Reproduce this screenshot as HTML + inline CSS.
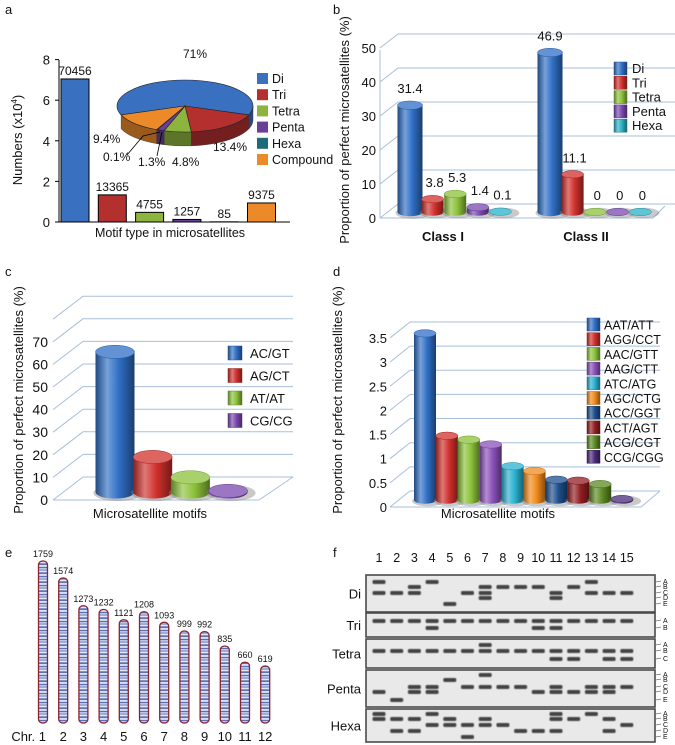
<!DOCTYPE html>
<html><head><meta charset="utf-8"><style>
html,body{margin:0;padding:0;background:#fff}
svg{display:block;font-family:"Liberation Sans",Arial,sans-serif}
</style></head><body>
<svg id="fig" width="675" height="745" viewBox="0 0 675 745" xmlns="http://www.w3.org/2000/svg">
<defs id="defs">
<pattern id="chrPat" width="10" height="9" patternUnits="userSpaceOnUse">
<rect width="10" height="9" fill="#bcc7e8"/>
<rect y="0" width="10" height="1" fill="#5a6fb5"/>
<rect y="2.5" width="10" height="1" fill="#8090c8"/>
<rect y="4" width="10" height="0.8" fill="#eef1fa"/>
<rect y="5.5" width="10" height="1.3" fill="#4a5fa8"/>
<rect y="7.5" width="10" height="0.8" fill="#f4f6fc"/>
</pattern>
<filter id="blur" x="-20%" y="-50%" width="140%" height="200%"><feGaussianBlur stdDeviation="0.6"/></filter>
</defs>
<g id="root"></g>
</svg>
<script>
// ---------- Data ----------
const aCats=["Di","Tri","Tetra","Penta","Hexa","Compound"];
const aCounts=[70456,13365,4755,1257,85,9375];
const aPiePct=[71,13.4,4.8,1.3,0.1,9.4];
const aTicks=[0,2,4,6,8];
const bClasses=["Class I","Class II"];
const bSeries=["Di","Tri","Tetra","Penta","Hexa"];
const bClassI=[31.4,3.8,5.3,1.4,0.1];
const bClassII=[46.9,11.1,0,0,0];
const bTicks=[0,10,20,30,40,50];
const cCats=["AC/GT","AG/CT","AT/AT","CG/CG"];
const cVals=[62,15.5,6.5,0.5];
const cTicks=[0,10,20,30,40,50,60,70];
const dCats=["AAT/ATT","AGG/CCT","AAC/GTT","AAG/CTT","ATC/ATG","AGC/CTG","ACC/GGT","ACT/AGT","ACG/CGT","CCG/CGG"];
const dVals=[3.45,1.33,1.25,1.15,0.7,0.6,0.42,0.4,0.33,0.02];
const dTicks=[0,0.5,1,1.5,2,2.5,3,3.5];
const dTickLabels=["0","0.5","1","1.5","2","2.5","3","3.5"];
const eChr=["Chr. 1","2","3","4","5","6","7","8","9","10","11","12"];
const eCounts=[1759,1574,1273,1232,1121,1208,1093,999,992,835,660,619];
const fRows=["Di","Tri","Tetra","Penta","Hexa"];
const fBands={
Di:[["A","C"],["C"],["B","C"],["A"],["E"],["C"],["B","C","D"],["B"],["B"],["B"],["C","D"],["B"],["A","C"],["C"],["C"]],
Tri:[["A"],["A"],["A"],["A","B"],["A"],["A"],["A"],["A"],["A"],["A","B"],["A","B"],["A"],["A"],["A"],["A"]],
Tetra:[["B"],["B"],["B"],["B"],["B"],["B"],["A","B"],["B"],["B"],["B"],["B","C"],["B","C"],["B"],["B","C"],["B","C"]],
Penta:[["D"],["E"],["C","D"],["C","D"],["B"],["C"],["A","C"],["C"],["C"],["D"],["C","D"],["D"],["C","D"],["C","D"],["C"]],
Hexa:[["A","B"],["B","D"],["B","D"],["A","C"],["B","C"],["C","E"],["B","C"],["C"],["D"],["D"],["A","B","D"],["B"],["A"],["B","D"],["C"]]
};
const fLetters={Di:["A","B","C","D","E"],Tri:["A","B"],Tetra:["A","B","C"],Penta:["A","B","C","D","E"],Hexa:["A","B","C","D","E"]};

// ---------- helpers ----------
const NS="http://www.w3.org/2000/svg";
const root=document.getElementById('root');
const defs=document.getElementById('defs');
function mk(tag,attrs,parent){const e=document.createElementNS(NS,tag);for(const k in attrs)e.setAttribute(k,attrs[k]);(parent||root).appendChild(e);return e;}
function txt(x,y,s,size,anchor,parent,extra){const t=mk('text',Object.assign({x:x,y:y,'font-size':size,'text-anchor':anchor||'start',fill:'#111'},extra||{}),parent);t.textContent=s;return t;}
function shade(hex,f){let n=parseInt(hex.slice(1),16);let r=n>>16,g=(n>>8)&255,b=n&255;
 const m=c=>Math.max(0,Math.min(255,Math.round(f>0?c+(255-c)*f:c*(1+f))));return 'rgb('+m(r)+','+m(g)+','+m(b)+')';}
let gid=0;
function cylGrad(color){const id='cg'+(gid++);const g=mk('linearGradient',{id:id,x1:0,y1:0,x2:1,y2:0},defs);
 [[0,shade(color,-0.35)],[0.3,shade(color,0.35)],[0.6,color],[1,shade(color,-0.45)]].forEach(s=>mk('stop',{offset:s[0],'stop-color':s[1]},g));return 'url(#'+id+')';}
function cylinder(g,cx,w,baseY,topY,color){
 const rx=w/2, ry=w*0.17;
 mk('ellipse',{cx:cx+3,cy:baseY+1,rx:rx+5,ry:ry+1.5,fill:'#888','opacity':0.45},g);
 if(baseY-topY>0.5){
  mk('path',{d:`M${cx-rx},${topY} L${cx-rx},${baseY} A${rx},${ry} 0 0 0 ${cx+rx},${baseY} L${cx+rx},${topY} Z`,fill:cylGrad(color)},g);
 }
 mk('ellipse',{cx:cx,cy:topY,rx:rx,ry:ry,fill:shade(color,0.25),stroke:shade(color,-0.2),'stroke-width':0.5},g);
}
function legendSq(g,x,y,s,color){mk('rect',{x:x,y:y,width:s,height:s,fill:cylGrad(color),stroke:shade(color,-0.3),'stroke-width':0.5},g);}

// ---------- Panel a ----------
(function(){
 const g=mk('g',{});
 const L=txt(5,14,'a',13,'start',g);
 const colors=["#3a70c0","#b3302f","#8db43f","#6a3f98","#1f6a78","#ec8a2a"];
 const y0=222,px=20.3/10000; const ys=v=>y0-v*px;
 mk('line',{x1:59,y1:60,x2:59,y2:222,stroke:'#000','stroke-width':1},g);
 mk('line',{x1:59,y1:222,x2:290,y2:222,stroke:'#000','stroke-width':1},g);
 aTicks.forEach(t=>{const y=y0-t*20.3;mk('line',{x1:55,y1:y,x2:59,y2:y,stroke:'#000'},g);
  const tl=txt(50,y+5,String(t),13,'end',g);});
 const yt=txt(0,0,'Numbers (x10',13,'middle',g,{transform:'translate(22,140) rotate(-90)'});
 const sup=mk('tspan',{'font-size':8,dy:-5},yt);sup.textContent='4';const tc=mk('tspan',{dy:5},yt);tc.textContent=')';
 
 const xt=txt(170,237,'Motif type in microsatellites',12.5,'middle',g);
 aCounts.forEach((v,i)=>{const x=61+i*37.3;const y=ys(v);
  const r=mk('rect',{x:x,y:y,width:28,height:y0-y,fill:colors[i],stroke:'#000','stroke-width':1},g);
  
  const l=txt(x+14,y-4,String(v),12,'middle',g);});
 // pie
 const pg=mk('g',{},g);
 const cx=185,cy=106,rx=68,ry=26,dep=14;
 const rest=aPiePct.slice(1).reduce((a,b)=>a+b,0);
 const sl=[];let a0=200;sl.push([a0,-20,0]);
 let cur=-20;const order=[1,2,3,4,5];
 order.forEach(k=>{const span=aPiePct[k]/rest*140;sl.push([cur,cur-span,k]);cur-=span;});
 const P=(a,dy)=>[cx+rx*Math.cos(a*Math.PI/180),cy-ry*Math.sin(a*Math.PI/180)+(dy||0)];
 sl.forEach(s=>{let a1=Math.max(s[1],-180),a2=Math.min(s[0],0);if(s[2]===0){a1=-20;a2=0;}
  if(a2<=a1)return;const p1=P(a2),p2=P(a1);
  mk('path',{d:`M${p1[0]},${p1[1]} A${rx},${ry} 0 0 1 ${p2[0]},${p2[1]} L${p2[0]},${p2[1]+dep} A${rx},${ry} 0 0 0 ${p1[0]},${p1[1]+dep} Z`,fill:shade(colors[s[2]],-0.35),stroke:'#333','stroke-width':0.4},pg);});
 sl.forEach(s=>{const p1=P(s[0]),p2=P(s[1]);const large=Math.abs(s[0]-s[1])>180?1:0;
  const pp=mk('path',{d:`M${cx},${cy} L${p1[0]},${p1[1]} A${rx},${ry} 0 ${large} 1 ${p2[0]},${p2[1]} Z`,fill:colors[s[2]],stroke:'#222','stroke-width':0.6},pg);
  });
 const pl=[['71%',183,58],['9.4%',93,143],['13.4%',213,151],['0.1%',103,161],['1.3%',138,166],['4.8%',172,166]];
 pl.forEach(p=>{const t=txt(p[1],p[2],p[0],12,'start',g);});
 mk('polyline',{points:'127,155 143,136 160,132',fill:'none',stroke:'#000','stroke-width':0.8},g);
 mk('polyline',{points:'157,156 162,132',fill:'none',stroke:'#000','stroke-width':0.8},g);
 aCats.forEach((c,i)=>{const y=73+i*16.2;const r=mk('rect',{x:257,y:y,width:11,height:11,fill:colors[i]},g);
  
  const t=txt(272,y+10,c,12.5,'start',g);});
})();

// ---------- Panel b ----------
(function(){
 const g=mk('g',{});
 const L=txt(333,14,'b',13,'start',g);
 const colors=["#2f6fc6","#d0302c","#8cc23a","#7a48b0","#2ab0c8"];
 const fy=v=>218-v*3.4, base=212;
 bTicks.forEach(t=>{const y=fy(t);
  mk('polyline',{points:`380,${y} 398,${y-14} 675,${y-14}`,fill:'none',stroke:'#a8bfdc','stroke-width':1},g);
  const tl=txt(376,y+5,String(t),13,'end',g);});
 mk('polyline',{points:'380,218 653,218 665,206',fill:'none',stroke:'#a8bfdc','stroke-width':1},g);
 mk('line',{x1:380,y1:218,x2:380,y2:50,stroke:'#a8bfdc'},g);
 const yt=txt(0,0,'Proportion of perfect microsatellites (%)',13,'middle',g,{transform:'translate(349,130) rotate(-90)'});
 
 const groups=[bClassI,bClassII];const gx=[410,550];
 groups.forEach((vals,gi)=>{vals.forEach((v,i)=>{const cx=gx[gi]+i*22.6;const bg=mk('g',{},g);
   
   const top=base-v*3.4;cylinder(bg,cx,i==0?25:22,base,top,colors[i]);
   const l=txt(cx+(i==0?0:2),top-12,String(v),13,'middle',g);});
  const ct=txt(gi==0?443:586,241,bClasses[gi],13,'middle',g,{'font-weight':'bold'});});
 bSeries.forEach((s,i)=>{const y=62+i*14.3;legendSq(g,614,y,13,colors[i]);
  const t=txt(632,y+11,s,13,'start',g);});
})();

// ---------- Panel c ----------
(function(){
 const g=mk('g',{});
 const L=txt(5,276,'c',13,'start',g);
 const colors=["#2f6fc6","#d0302c","#8cc23a","#7a48b0"];
 const fy=v=>500-v*2.26, base=492;
 cTicks.concat([80]).forEach(t=>{const y=fy(t);
  mk('polyline',{points:`53,${y} 83,${y-23} 293,${y-23}`,fill:'none',stroke:'#a8bfdc','stroke-width':1},g);});
 cTicks.forEach(t=>{const tl=txt(48,fy(t)+5,String(t),14,'end',g);});
 mk('polyline',{points:'53,500 259,500 293,477',fill:'none',stroke:'#a8bfdc','stroke-width':1},g);
 const yt=txt(0,0,'Proportion of perfect microsatellites (%)',13,'middle',g,{transform:'translate(23,400) rotate(-90)'});
 
 const xt=txt(150,518,'Microsatellite motifs',13,'middle',g);
 cVals.forEach((v,i)=>{const cx=115+i*37.7;const bg=mk('g',{},g);
  
  cylinder(bg,cx,39,base,base-v*2.26,colors[i]);});
 cCats.forEach((c,i)=>{const y=346+i*22.5;legendSq(g,228,y,14,colors[i]);
  const t=txt(250,y+12,c,13,'start',g);});
})();

// ---------- Panel d ----------
(function(){
 const g=mk('g',{});
 const L=txt(333,276,'d',13,'start',g);
 const colors=["#2f6fc6","#d0302c","#8cc23a","#8a50b8","#2ab0d0","#f08a1c","#1d4f8c","#921e22","#5c8a22","#4a2a78"];
 const fy=v=>507-v*48.3, base=500;
 dTicks.forEach((t,i)=>{const y=fy(t);
  mk('polyline',{points:`390,${y} 410,${y-16} 660,${y-16}`,fill:'none',stroke:'#a8bfdc','stroke-width':1},g);
  const tl=txt(387,y+5,dTickLabels[i],13,'end',g);});
 mk('polyline',{points:'390,507 641,507 660,491',fill:'none',stroke:'#a8bfdc','stroke-width':1},g);
 const yt=txt(0,0,'Proportion of perfect  microsatellites (%)',13,'middle',g,{transform:'translate(342,400) rotate(-90)'});
 
 const xt=txt(498,518,'Microsatellite motifs',13,'middle',g);
 dVals.forEach((v,i)=>{const cx=425+i*21.9;const bg=mk('g',{},g);
  
  cylinder(bg,cx,22,base,base-v*48.3,colors[i]);});
 dCats.forEach((c,i)=>{const y=318+i*14.7;legendSq(g,587,y,13,colors[i]);
  const t=txt(604,y+11.5,c,12.5,'start',g);});
})();

// ---------- Panel e ----------
(function(){
 const g=mk('g',{});
 const L=txt(5,557,'e',13,'start',g);
 const bottom=723,k=162/1759;
 eCounts.forEach((c,i)=>{const cx=43+i*20.2;const h=c*k;const top=bottom-h;
  const r=mk('rect',{x:cx-4.5,y:top,width:9,height:h,rx:4,ry:4,fill:'url(#chrPat)',stroke:'#8a2430','stroke-width':1.3},g);
  
  const l=txt(cx,top-4,String(c),9,'middle',g);
  const cl=txt(i==0?cx+3:cx,741,eChr[i],13,i==0?'end':'middle',g);});
})();

// ---------- Panel f ----------
(function(){
 const g=mk('g',{});
 const L=txt(333,557,'f',13,'start',g);
 const rows={Di:[575,612,[582,587,593,598,604]],Tri:[613,637,[621,628]],Tetra:[639,668,[645,651,659]],Penta:[670,707,[675,680,687,692,700]],Hexa:[709,742,[714,719,725,731,737]]};
 for(let i=0;i<15;i++){const t=txt(379+i*17.7,562,String(i+1),12.5,'middle',g);}
 fRows.forEach(rn=>{const R=rows[rn];const rg=mk('g',{},g);
  mk('rect',{x:366,y:R[0],width:289,height:R[1]-R[0],fill:'#e9e9e9',stroke:'#4a4a4a','stroke-width':1.6},rg);
  const t=txt(361,(R[0]+R[1])/2+5,rn,13,'end',g);
  fBands[rn].forEach((lane,li)=>{lane.forEach(b=>{const idx=fLetters[rn].indexOf(b);const y=R[2][idx];
   const bd=mk('rect',{x:379+li*17.7-6.5,y:y-2,width:13,height:4,rx:1.5,fill:'#1e1e1e',opacity:0.8,filter:'url(#blur)'},rg);
   });});
  fLetters[rn].forEach((lt,i)=>{const y=R[2][i];mk('line',{x1:656,y1:y,x2:661,y2:y-1,stroke:'#333','stroke-width':0.6},g);
   const lt2=txt(663,y+2,lt,7,'start',g);});
 });
})();
</script>
</body></html>
